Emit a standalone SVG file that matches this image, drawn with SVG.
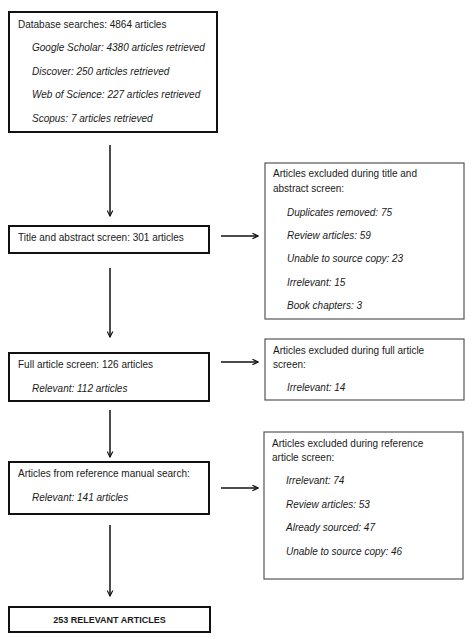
<svg xmlns="http://www.w3.org/2000/svg" width="474" height="639" viewBox="0 0 474 639">
<style>
text{font-family:"Liberation Sans",Arial,sans-serif;font-size:10px;fill:#1a1a1a}
.i{font-style:italic}
.b{font-weight:bold;font-size:9px}
.main{fill:#fff;stroke:#111;stroke-width:2}
.exc{fill:#fff;stroke:#555;stroke-width:1.2}
.c line,.c path{stroke:#111;stroke-width:1.5;fill:none}
</style>
<defs>
<marker id="ah" viewBox="0 0 10 10" refX="9" refY="5" markerWidth="7" markerHeight="7" markerUnits="userSpaceOnUse" orient="auto">
<path d="M1,1 L9,5 L1,9" fill="none" stroke="#111" stroke-width="1.6"/>
</marker>
</defs>
<rect width="474" height="639" fill="#fff"/>
<g id="n1">
<rect class="main" x="9" y="12" width="208" height="120"/>
<text x="18" y="28">Database searches: 4864 articles</text>
<text class="i" x="32" y="51">Google Scholar: 4380 articles retrieved</text>
<text class="i" x="32" y="75">Discover: 250 articles retrieved</text>
<text class="i" x="32" y="98">Web of Science: 227 articles retrieved</text>
<text class="i" x="32" y="122">Scopus: 7 articles retrieved</text>
</g>
<g id="n2">
<rect class="main" x="9" y="226" width="200" height="27"/>
<text x="18" y="241">Title and abstract screen: 301 articles</text>
</g>
<g id="e1">
<rect class="exc" x="265" y="163" width="199" height="156"/>
<text x="273" y="177">Articles excluded during title and</text>
<text x="273" y="192">abstract screen:</text>
<text class="i" x="287" y="216">Duplicates removed: 75</text>
<text class="i" x="287" y="239">Review articles: 59</text>
<text class="i" x="287" y="262">Unable to source copy: 23</text>
<text class="i" x="287" y="286">Irrelevant: 15</text>
<text class="i" x="287" y="309">Book chapters: 3</text>
</g>
<g id="n3">
<rect class="main" x="9" y="353" width="200" height="48"/>
<text x="18" y="368">Full article screen: 126 articles</text>
<text class="i" x="32" y="392">Relevant: 112 articles</text>
</g>
<g id="e2">
<rect class="exc" x="265" y="339" width="199" height="61"/>
<text x="273" y="354">Articles excluded during full article</text>
<text x="273" y="368">screen:</text>
<text class="i" x="287" y="391">Irrelevant: 14</text>
</g>
<g id="n4">
<rect class="main" x="9" y="462" width="200" height="52"/>
<text x="18" y="477">Articles from reference manual search:</text>
<text class="i" x="32" y="501">Relevant: 141 articles</text>
</g>
<g id="e3">
<rect class="exc" x="264" y="432" width="199" height="147"/>
<text x="272" y="447">Articles excluded during reference</text>
<text x="272" y="461">article screen:</text>
<text class="i" x="286" y="484">Irrelevant: 74</text>
<text class="i" x="286" y="508">Review articles: 53</text>
<text class="i" x="286" y="531">Already sourced: 47</text>
<text class="i" x="286" y="555">Unable to source copy: 46</text>
</g>
<g id="n5">
<rect class="main" x="9" y="607" width="201" height="25"/>
<text class="b" x="109.5" y="623" text-anchor="middle">253 RELEVANT ARTICLES</text>
</g>
<g id="connectors" class="c">
<line x1="110" y1="145" x2="110" y2="216" marker-end="url(#ah)"/>
<line x1="110" y1="268" x2="110" y2="337" marker-end="url(#ah)"/>
<line x1="110" y1="410" x2="110" y2="457" marker-end="url(#ah)"/>
<line x1="110" y1="525" x2="110" y2="596" marker-end="url(#ah)"/>
<line x1="221" y1="236" x2="258" y2="236" marker-end="url(#ah)"/>
<line x1="221" y1="362" x2="258" y2="362" marker-end="url(#ah)"/>
<line x1="221" y1="488" x2="258" y2="488" marker-end="url(#ah)"/>
</g>
</svg>
